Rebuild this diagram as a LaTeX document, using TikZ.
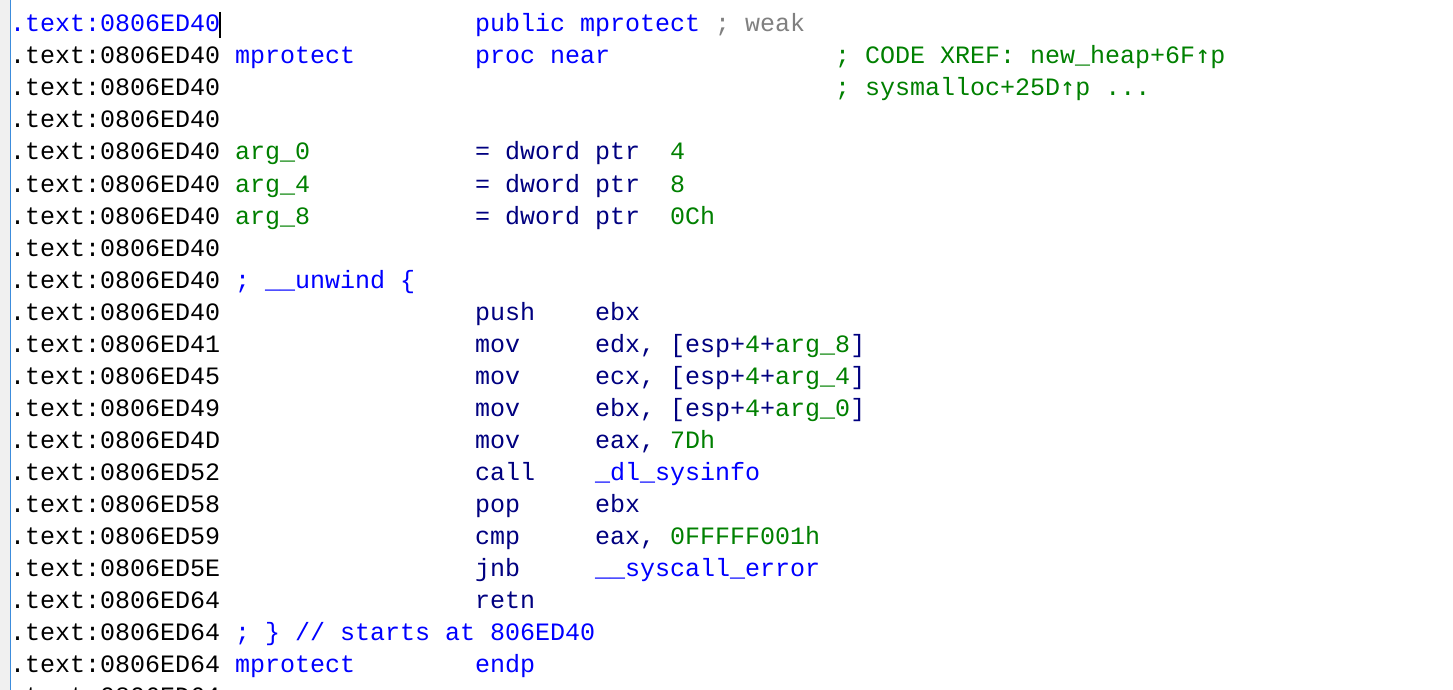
\documentclass[tikz,border=0pt]{standalone}
\usepackage{fontspec}
\setmonofont{Liberation Mono}
\newfontfamily\arrfont{DejaVu Sans Mono}
\definecolor{idanavy}{HTML}{000080}
\definecolor{idablue}{HTML}{0000FF}
\definecolor{idagreen}{HTML}{008000}
\definecolor{idagray}{HTML}{808080}
\definecolor{idabar}{HTML}{3C8CDC}
\newcommand{\up}{{\arrfont\char"2191}}
\newcommand{\tk}[4]{\node[tok,text=#3] at ({10+15*#1},{32+32*#2}) {#4};}
\newcommand{\ad}[2]{\node[tok,text=black] at (10,{32+32*#1}) {.text:0806#2};}
\begin{document}
\begin{tikzpicture}[x=1pt,y=-1pt,
  tok/.style={inner sep=0pt,anchor=base west,font=\ttfamily\fontsize{25}{25}\selectfont}]
\useasboundingbox (0,0) rectangle (1453,690);
\clip (0,0) rectangle (1453,690);
\fill[white] (0,0) rectangle (1453,690);
\fill[black!6] (0,0) rectangle (10,690);
\draw[idabar,line width=1.2pt] (10.5,0) -- (10.5,690);
% row 0
\tk{0}{0}{idablue}{.text:0806ED40}
\draw[black,line width=1.5pt] (220,12) -- (220,38);
\tk{31}{0}{idablue}{public mprotect}
\tk{47}{0}{idagray}{; weak}
% row 1
\ad{1}{ED40}\tk{15}{1}{idablue}{mprotect}\tk{31}{1}{idablue}{proc near}
\tk{55}{1}{idagreen}{; CODE XREF: new\_heap+6F\up p}
\ad{2}{ED40}\tk{55}{2}{idagreen}{; sysmalloc+25D\up p ...}
\ad{3}{ED40}
\ad{4}{ED40}\tk{15}{4}{idagreen}{arg\_0}\tk{31}{4}{idanavy}{= dword ptr}\tk{44}{4}{idagreen}{4}
\ad{5}{ED40}\tk{15}{5}{idagreen}{arg\_4}\tk{31}{5}{idanavy}{= dword ptr}\tk{44}{5}{idagreen}{8}
\ad{6}{ED40}\tk{15}{6}{idagreen}{arg\_8}\tk{31}{6}{idanavy}{= dword ptr}\tk{44}{6}{idagreen}{0Ch}
\ad{7}{ED40}
\ad{8}{ED40}\tk{15}{8}{idablue}{; \_\_unwind \{}
\ad{9}{ED40}\tk{31}{9}{idanavy}{push}\tk{39}{9}{idanavy}{ebx}
\ad{10}{ED41}\tk{31}{10}{idanavy}{mov}\tk{39}{10}{idanavy}{edx, [esp+\textcolor{idagreen}{4}+\textcolor{idagreen}{arg\_8}]}
\ad{11}{ED45}\tk{31}{11}{idanavy}{mov}\tk{39}{11}{idanavy}{ecx, [esp+\textcolor{idagreen}{4}+\textcolor{idagreen}{arg\_4}]}
\ad{12}{ED49}\tk{31}{12}{idanavy}{mov}\tk{39}{12}{idanavy}{ebx, [esp+\textcolor{idagreen}{4}+\textcolor{idagreen}{arg\_0}]}
\ad{13}{ED4D}\tk{31}{13}{idanavy}{mov}\tk{39}{13}{idanavy}{eax, \textcolor{idagreen}{7Dh}}
\ad{14}{ED52}\tk{31}{14}{idanavy}{call}\tk{39}{14}{idablue}{\_dl\_sysinfo}
\ad{15}{ED58}\tk{31}{15}{idanavy}{pop}\tk{39}{15}{idanavy}{ebx}
\ad{16}{ED59}\tk{31}{16}{idanavy}{cmp}\tk{39}{16}{idanavy}{eax, \textcolor{idagreen}{0FFFFF001h}}
\ad{17}{ED5E}\tk{31}{17}{idanavy}{jnb}\tk{39}{17}{idablue}{\_\_syscall\_error}
\ad{18}{ED64}\tk{31}{18}{idanavy}{retn}
\ad{19}{ED64}\tk{15}{19}{idablue}{; \} // starts at 806ED40}
\ad{20}{ED64}\tk{15}{20}{idablue}{mprotect}\tk{31}{20}{idablue}{endp}
\ad{21}{ED64}
\end{tikzpicture}
\end{document}
